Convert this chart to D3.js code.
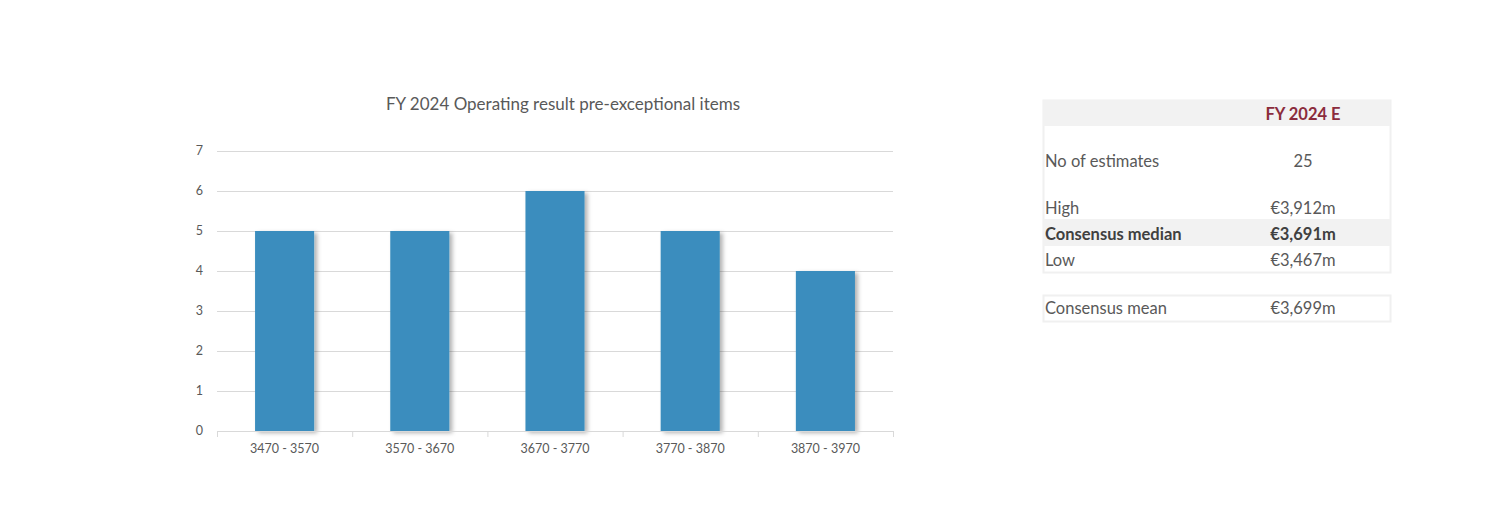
<!DOCTYPE html>
<html>
<head>
<meta charset="utf-8">
<script src="https://cdn.jsdelivr.net/npm/d3@7"></script>
<style>
  body { margin: 0; background: #fff; }
  text { font-family: Lato, "Open Sans", sans-serif; }
</style>
</head>
<body>
<script>
// chart data
var categories = ["3470 - 3570", "3570 - 3670", "3670 - 3770", "3770 - 3870", "3870 - 3970"];
var counts = [5, 5, 6, 5, 4];
var yTicks = [0, 1, 2, 3, 4, 5, 6, 7];
var chartTitle = "FY 2024 Operating result pre-exceptional items";

// table data
var tableHeader = "FY 2024 E";
var tableLabels = ["No of estimates", "High", "Consensus median", "Low"];
var tableValues = ["25", "€3,912m", "€3,691m", "€3,467m"];
var meanLabel = "Consensus mean";
var meanValue = "€3,699m";

var width = 1500,
    height = 508;

var svg = d3.select("body")
            .append("svg")
            .attr("width", width)
            .attr("height", height);

var defs = svg.append("defs");
var filter = defs.append("filter")
    .attr("id", "shadow")
    .attr("x", "-20%").attr("y", "-20%")
    .attr("width", "160%").attr("height", "140%");
filter.append("feDropShadow")
    .attr("dx", 3).attr("dy", 2)
    .attr("stdDeviation", 2)
    .attr("flood-color", "#000")
    .attr("flood-opacity", 0.3);

// plot area
var plot = {left: 217, right: 893, top: 151, bottom: 431};

var x = d3.scaleBand()
    .domain(categories)
    .range([plot.left, plot.right])
    .paddingInner(0.563)
    .paddingOuter(0.2815);

var xOuter = d3.scaleBand()
    .domain(categories)
    .range([plot.left, plot.right]);

var y = d3.scaleLinear()
    .domain([0, 7])
    .range([plot.bottom, plot.top]);

// title
svg.append("text")
    .attr("x", 563)
    .attr("y", 110)
    .attr("text-anchor", "middle")
    .style("font-size", "17px")
    .style("fill", "#595959")
    .text(chartTitle);

// gridlines
svg.append("g")
    .selectAll("line")
    .data(yTicks.filter(function(d) { return d > 0; }))
    .enter()
    .append("line")
    .attr("x1", plot.left)
    .attr("x2", plot.right)
    .attr("y1", function(d) { return y(d) + 0.5; })
    .attr("y2", function(d) { return y(d) + 0.5; })
    .style("stroke", "#d9d9d9")
    .style("stroke-width", 1);

// y axis labels
svg.append("g")
    .selectAll("text")
    .data(yTicks)
    .enter()
    .append("text")
    .attr("x", 203)
    .attr("y", function(d) { return y(d); })
    .attr("dy", "0.35em")
    .attr("text-anchor", "end")
    .style("font-size", "12.5px")
    .style("fill", "#595959")
    .text(function(d) { return d; });

// bars
svg.append("g")
    .selectAll("rect")
    .data(counts)
    .enter()
    .append("rect")
    .attr("x", function(d, i) { return x(categories[i]); })
    .attr("y", function(d) { return y(d); })
    .attr("width", x.bandwidth())
    .attr("height", function(d) { return y(0) - y(d); })
    .style("fill", "#3a8dbe")
    .attr("filter", "url(#shadow)");

// x axis
var xAxis = svg.append("g");
xAxis.append("line")
    .attr("x1", plot.left).attr("x2", plot.right)
    .attr("y1", plot.bottom + 0.5).attr("y2", plot.bottom + 0.5)
    .style("stroke", "#d9d9d9");
xAxis.selectAll(".tick")
    .data(categories.concat([null]))
    .enter()
    .append("line")
    .attr("x1", function(d) { return (d ? xOuter(d) : plot.right) + 0.5; })
    .attr("x2", function(d) { return (d ? xOuter(d) : plot.right) + 0.5; })
    .attr("y1", plot.bottom)
    .attr("y2", plot.bottom + 6)
    .style("stroke", "#d9d9d9");
xAxis.selectAll("text")
    .data(categories)
    .enter()
    .append("text")
    .attr("x", function(d) { return xOuter(d) + xOuter.bandwidth() / 2; })
    .attr("y", 453)
    .attr("text-anchor", "middle")
    .style("font-size", "12.5px")
    .style("fill", "#595959")
    .text(function(d) { return d; });

// summary table
var tbl = {left: 1043, right: 1390, valueX: 1303};
var tg = svg.append("g");

tg.append("rect")
    .attr("x", tbl.left + 0.5).attr("y", 100.5)
    .attr("width", tbl.right - tbl.left).attr("height", 172)
    .style("fill", "#fff")
    .style("stroke", "#f0f0f0")
    .style("stroke-width", 2);
tg.append("rect")
    .attr("x", tbl.left).attr("y", 100)
    .attr("width", tbl.right - tbl.left).attr("height", 26)
    .style("fill", "#f2f2f2");
tg.append("rect")
    .attr("x", tbl.left).attr("y", 219)
    .attr("width", tbl.right - tbl.left).attr("height", 27)
    .style("fill", "#f2f2f2");

tg.append("text")
    .attr("x", tbl.valueX).attr("y", 120)
    .attr("text-anchor", "middle")
    .style("font-size", "16.5px")
    .style("font-weight", "bold")
    .style("fill", "#8b2c3c")
    .text(tableHeader);

var rowY = [167, 214, 240, 266];
tableLabels.forEach(function(label, i) {
  var bold = i === 2;
  tg.append("text")
    .attr("x", tbl.left + 2).attr("y", rowY[i])
    .style("font-size", "16.5px")
    .style("font-weight", bold ? "bold" : "normal")
    .style("fill", bold ? "#404040" : "#595959")
    .text(label);
  tg.append("text")
    .attr("x", tbl.valueX).attr("y", rowY[i])
    .attr("text-anchor", "middle")
    .style("font-size", "16.5px")
    .style("font-weight", bold ? "bold" : "normal")
    .style("fill", bold ? "#404040" : "#595959")
    .text(tableValues[i]);
});

tg.append("rect")
    .attr("x", tbl.left + 0.5).attr("y", 295.5)
    .attr("width", tbl.right - tbl.left).attr("height", 26)
    .style("fill", "#fff")
    .style("stroke", "#f0f0f0")
    .style("stroke-width", 2);
tg.append("text")
    .attr("x", tbl.left + 2).attr("y", 314)
    .style("font-size", "16.5px")
    .style("fill", "#595959")
    .text(meanLabel);
tg.append("text")
    .attr("x", tbl.valueX).attr("y", 314)
    .attr("text-anchor", "middle")
    .style("font-size", "16.5px")
    .style("fill", "#595959")
    .text(meanValue);
</script>
</body>
</html>
